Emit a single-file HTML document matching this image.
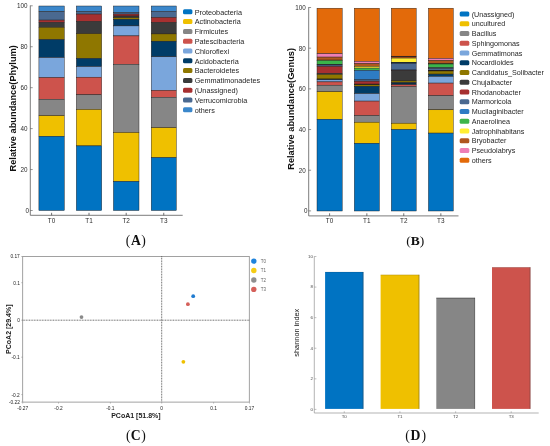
<!DOCTYPE html>
<html lang="en"><head><meta charset="utf-8"><title>Figure</title>
<style>
html,body{margin:0;padding:0;background:#fff;}
body{width:550px;height:446px;overflow:hidden;}
svg{display:block;}
</style></head><body>
<svg width="550" height="446" viewBox="0 0 550 446">
<rect width="550" height="446" fill="#fff"/>
<g font-family='"Liberation Sans", Arial, sans-serif'>
<rect x="38.90" y="6.00" width="25.40" height="5.60" fill="#3B87CB" stroke="#1a1414" stroke-width="0.42"/>
<rect x="38.90" y="11.60" width="25.40" height="8.50" fill="#4A6990" stroke="#1a1414" stroke-width="0.42"/>
<rect x="38.90" y="20.10" width="25.40" height="2.40" fill="#A73030" stroke="#1a1414" stroke-width="0.42"/>
<rect x="38.90" y="22.50" width="25.40" height="4.80" fill="#3B3B3B" stroke="#1a1414" stroke-width="0.42"/>
<rect x="38.90" y="27.30" width="25.40" height="12.30" fill="#8F7700" stroke="#1a1414" stroke-width="0.42"/>
<rect x="38.90" y="39.60" width="25.40" height="18.00" fill="#003C67" stroke="#1a1414" stroke-width="0.42"/>
<rect x="38.90" y="57.60" width="25.40" height="20.00" fill="#7AA6DC" stroke="#1a1414" stroke-width="0.42"/>
<rect x="38.90" y="77.60" width="25.40" height="21.70" fill="#CD534C" stroke="#1a1414" stroke-width="0.42"/>
<rect x="38.90" y="99.30" width="25.40" height="16.40" fill="#868686" stroke="#1a1414" stroke-width="0.42"/>
<rect x="38.90" y="115.70" width="25.40" height="20.60" fill="#EFC000" stroke="#1a1414" stroke-width="0.42"/>
<rect x="38.90" y="136.30" width="25.40" height="74.20" fill="#0073C2" stroke="#1a1414" stroke-width="0.42"/>
<rect x="76.30" y="6.00" width="25.40" height="5.60" fill="#3B87CB" stroke="#1a1414" stroke-width="0.42"/>
<rect x="76.30" y="11.60" width="25.40" height="2.50" fill="#4A6990" stroke="#1a1414" stroke-width="0.42"/>
<rect x="76.30" y="14.10" width="25.40" height="7.40" fill="#A73030" stroke="#1a1414" stroke-width="0.42"/>
<rect x="76.30" y="21.50" width="25.40" height="12.20" fill="#3B3B3B" stroke="#1a1414" stroke-width="0.42"/>
<rect x="76.30" y="33.70" width="25.40" height="24.70" fill="#8F7700" stroke="#1a1414" stroke-width="0.42"/>
<rect x="76.30" y="58.40" width="25.40" height="8.20" fill="#003C67" stroke="#1a1414" stroke-width="0.42"/>
<rect x="76.30" y="66.60" width="25.40" height="10.60" fill="#7AA6DC" stroke="#1a1414" stroke-width="0.42"/>
<rect x="76.30" y="77.20" width="25.40" height="17.60" fill="#CD534C" stroke="#1a1414" stroke-width="0.42"/>
<rect x="76.30" y="94.80" width="25.40" height="14.60" fill="#868686" stroke="#1a1414" stroke-width="0.42"/>
<rect x="76.30" y="109.40" width="25.40" height="36.50" fill="#EFC000" stroke="#1a1414" stroke-width="0.42"/>
<rect x="76.30" y="145.90" width="25.40" height="64.60" fill="#0073C2" stroke="#1a1414" stroke-width="0.42"/>
<rect x="113.40" y="6.00" width="25.60" height="6.40" fill="#3B87CB" stroke="#1a1414" stroke-width="0.42"/>
<rect x="113.40" y="12.40" width="25.60" height="1.70" fill="#4A6990" stroke="#1a1414" stroke-width="0.42"/>
<rect x="113.40" y="14.10" width="25.60" height="1.90" fill="#A73030" stroke="#1a1414" stroke-width="0.42"/>
<rect x="113.40" y="16.00" width="25.60" height="1.70" fill="#3B3B3B" stroke="#1a1414" stroke-width="0.42"/>
<rect x="113.40" y="17.70" width="25.60" height="1.60" fill="#8F7700" stroke="#1a1414" stroke-width="0.42"/>
<rect x="113.40" y="19.30" width="25.60" height="6.60" fill="#003C67" stroke="#1a1414" stroke-width="0.42"/>
<rect x="113.40" y="25.90" width="25.60" height="10.00" fill="#7AA6DC" stroke="#1a1414" stroke-width="0.42"/>
<rect x="113.40" y="35.90" width="25.60" height="28.40" fill="#CD534C" stroke="#1a1414" stroke-width="0.42"/>
<rect x="113.40" y="64.30" width="25.60" height="68.20" fill="#868686" stroke="#1a1414" stroke-width="0.42"/>
<rect x="113.40" y="132.50" width="25.60" height="48.90" fill="#EFC000" stroke="#1a1414" stroke-width="0.42"/>
<rect x="113.40" y="181.40" width="25.60" height="29.10" fill="#0073C2" stroke="#1a1414" stroke-width="0.42"/>
<rect x="151.20" y="6.00" width="25.10" height="5.30" fill="#3B87CB" stroke="#1a1414" stroke-width="0.42"/>
<rect x="151.20" y="11.30" width="25.10" height="6.20" fill="#4A6990" stroke="#1a1414" stroke-width="0.42"/>
<rect x="151.20" y="17.50" width="25.10" height="5.00" fill="#A73030" stroke="#1a1414" stroke-width="0.42"/>
<rect x="151.20" y="22.50" width="25.10" height="11.40" fill="#3B3B3B" stroke="#1a1414" stroke-width="0.42"/>
<rect x="151.20" y="33.90" width="25.10" height="7.30" fill="#8F7700" stroke="#1a1414" stroke-width="0.42"/>
<rect x="151.20" y="41.20" width="25.10" height="15.60" fill="#003C67" stroke="#1a1414" stroke-width="0.42"/>
<rect x="151.20" y="56.80" width="25.10" height="33.60" fill="#7AA6DC" stroke="#1a1414" stroke-width="0.42"/>
<rect x="151.20" y="90.40" width="25.10" height="6.90" fill="#CD534C" stroke="#1a1414" stroke-width="0.42"/>
<rect x="151.20" y="97.30" width="25.10" height="30.40" fill="#868686" stroke="#1a1414" stroke-width="0.42"/>
<rect x="151.20" y="127.70" width="25.10" height="29.90" fill="#EFC000" stroke="#1a1414" stroke-width="0.42"/>
<rect x="151.20" y="157.60" width="25.10" height="52.90" fill="#0073C2" stroke="#1a1414" stroke-width="0.42"/>
<path d="M30.3 5.5V215.3" stroke="#5a5a5a" stroke-width="0.8" fill="none"/>
<path d="M30.3 5.80H32.7" stroke="#5a5a5a" stroke-width="0.64" fill="none"/>
<text x="27.400000000000002" y="8.32" font-size="6.3" text-anchor="end" fill="#2a2a2a">100</text>
<path d="M30.3 46.74H32.7" stroke="#5a5a5a" stroke-width="0.64" fill="none"/>
<text x="27.400000000000002" y="49.26" font-size="6.3" text-anchor="end" fill="#2a2a2a">80</text>
<path d="M30.3 87.68H32.7" stroke="#5a5a5a" stroke-width="0.64" fill="none"/>
<text x="27.400000000000002" y="90.20" font-size="6.3" text-anchor="end" fill="#2a2a2a">60</text>
<path d="M30.3 128.62H32.7" stroke="#5a5a5a" stroke-width="0.64" fill="none"/>
<text x="27.400000000000002" y="131.14" font-size="6.3" text-anchor="end" fill="#2a2a2a">40</text>
<path d="M30.3 169.56H32.7" stroke="#5a5a5a" stroke-width="0.64" fill="none"/>
<text x="27.400000000000002" y="172.08" font-size="6.3" text-anchor="end" fill="#2a2a2a">20</text>
<path d="M30.3 210.50H32.7" stroke="#5a5a5a" stroke-width="0.64" fill="none"/>
<text x="29.000000000000004" y="213.02" font-size="6.3" text-anchor="end" fill="#2a2a2a">0</text>
<path d="M30.3 215.3H182.7" stroke="#5a5a5a" stroke-width="0.8" fill="none"/>
<path d="M51.60 215.3V212.8" stroke="#444" stroke-width="0.75" fill="none"/>
<text x="51.60" y="222.6" font-size="6.4" text-anchor="middle" fill="#2a2a2a">T0</text>
<path d="M89.00 215.3V212.8" stroke="#444" stroke-width="0.75" fill="none"/>
<text x="89.00" y="222.6" font-size="6.4" text-anchor="middle" fill="#2a2a2a">T1</text>
<path d="M126.20 215.3V212.8" stroke="#444" stroke-width="0.75" fill="none"/>
<text x="126.20" y="222.6" font-size="6.4" text-anchor="middle" fill="#2a2a2a">T2</text>
<path d="M163.75 215.3V212.8" stroke="#444" stroke-width="0.75" fill="none"/>
<text x="163.75" y="222.6" font-size="6.4" text-anchor="middle" fill="#2a2a2a">T3</text>
<text transform="translate(16.3 108.3) rotate(-90)" font-size="8.9" font-weight="bold" text-anchor="middle" fill="#111" textLength="126.3" lengthAdjust="spacingAndGlyphs">Relative abundance(Phylum)</text>
<rect x="183.0" y="9.30" width="9.4" height="5.0" rx="1.5" fill="#0073C2"/>
<text x="194.7" y="14.55" font-size="7.27" fill="#262626">Proteobacteria</text>
<rect x="183.0" y="19.10" width="9.4" height="5.0" rx="1.5" fill="#EFC000"/>
<text x="194.7" y="24.35" font-size="7.27" fill="#262626">Actinobacteria</text>
<rect x="183.0" y="28.90" width="9.4" height="5.0" rx="1.5" fill="#868686"/>
<text x="194.7" y="34.15" font-size="7.27" fill="#262626">Firmicutes</text>
<rect x="183.0" y="38.70" width="9.4" height="5.0" rx="1.5" fill="#CD534C"/>
<text x="194.7" y="43.95" font-size="7.27" fill="#262626">Patescibacteria</text>
<rect x="183.0" y="48.50" width="9.4" height="5.0" rx="1.5" fill="#7AA6DC"/>
<text x="194.7" y="53.75" font-size="7.27" fill="#262626">Chloroflexi</text>
<rect x="183.0" y="58.30" width="9.4" height="5.0" rx="1.5" fill="#003C67"/>
<text x="194.7" y="63.55" font-size="7.27" fill="#262626">Acidobacteria</text>
<rect x="183.0" y="68.10" width="9.4" height="5.0" rx="1.5" fill="#8F7700"/>
<text x="194.7" y="73.35" font-size="7.27" fill="#262626">Bacteroidetes</text>
<rect x="183.0" y="77.90" width="9.4" height="5.0" rx="1.5" fill="#3B3B3B"/>
<text x="194.7" y="83.15" font-size="7.27" fill="#262626">Gemmatimonadetes</text>
<rect x="183.0" y="87.70" width="9.4" height="5.0" rx="1.5" fill="#A73030"/>
<text x="194.7" y="92.95" font-size="7.27" fill="#262626">(Unassigned)</text>
<rect x="183.0" y="97.50" width="9.4" height="5.0" rx="1.5" fill="#4A6990"/>
<text x="194.7" y="102.75" font-size="7.27" fill="#262626">Verrucomicrobia</text>
<rect x="183.0" y="107.30" width="9.4" height="5.0" rx="1.5" fill="#3B87CB"/>
<text x="194.7" y="112.55" font-size="7.27" fill="#262626">others</text>
<rect x="317.00" y="8.20" width="25.20" height="45.50" fill="#E36A0A" stroke="#1a1414" stroke-width="0.42"/>
<rect x="317.00" y="53.70" width="25.20" height="3.40" fill="#EE7FB5" stroke="#1a1414" stroke-width="0.42"/>
<rect x="317.00" y="57.10" width="25.20" height="3.00" fill="#B0561F" stroke="#1a1414" stroke-width="0.42"/>
<rect x="317.00" y="60.10" width="25.20" height="0.40" fill="#FFEE33" stroke="#1a1414" stroke-width="0.42"/>
<rect x="317.00" y="60.50" width="25.20" height="4.10" fill="#3CB54A" stroke="#1a1414" stroke-width="0.42"/>
<rect x="317.00" y="64.60" width="25.20" height="0.40" fill="#2E7CC4" stroke="#1a1414" stroke-width="0.42"/>
<rect x="317.00" y="65.00" width="25.20" height="1.40" fill="#4A6990" stroke="#1a1414" stroke-width="0.42"/>
<rect x="317.00" y="66.40" width="25.20" height="6.90" fill="#A73030" stroke="#1a1414" stroke-width="0.42"/>
<rect x="317.00" y="73.30" width="25.20" height="1.10" fill="#3B3B3B" stroke="#1a1414" stroke-width="0.42"/>
<rect x="317.00" y="74.40" width="25.20" height="4.60" fill="#8F7700" stroke="#1a1414" stroke-width="0.42"/>
<rect x="317.00" y="79.00" width="25.20" height="0.80" fill="#003C67" stroke="#1a1414" stroke-width="0.42"/>
<rect x="317.00" y="79.80" width="25.20" height="2.10" fill="#7AA6DC" stroke="#1a1414" stroke-width="0.42"/>
<rect x="317.00" y="81.90" width="25.20" height="3.30" fill="#CD534C" stroke="#1a1414" stroke-width="0.42"/>
<rect x="317.00" y="85.20" width="25.20" height="6.50" fill="#868686" stroke="#1a1414" stroke-width="0.42"/>
<rect x="317.00" y="91.70" width="25.20" height="27.60" fill="#EFC000" stroke="#1a1414" stroke-width="0.42"/>
<rect x="317.00" y="119.30" width="25.20" height="91.70" fill="#0073C2" stroke="#1a1414" stroke-width="0.42"/>
<rect x="354.30" y="8.20" width="25.10" height="53.10" fill="#E36A0A" stroke="#1a1414" stroke-width="0.42"/>
<rect x="354.30" y="61.30" width="25.10" height="2.20" fill="#EE7FB5" stroke="#1a1414" stroke-width="0.42"/>
<rect x="354.30" y="63.50" width="25.10" height="2.90" fill="#B0561F" stroke="#1a1414" stroke-width="0.42"/>
<rect x="354.30" y="66.40" width="25.10" height="1.70" fill="#FFEE33" stroke="#1a1414" stroke-width="0.42"/>
<rect x="354.30" y="68.10" width="25.10" height="2.20" fill="#3CB54A" stroke="#1a1414" stroke-width="0.42"/>
<rect x="354.30" y="70.30" width="25.10" height="9.60" fill="#2E7CC4" stroke="#1a1414" stroke-width="0.42"/>
<rect x="354.30" y="79.90" width="25.10" height="1.30" fill="#4A6990" stroke="#1a1414" stroke-width="0.42"/>
<rect x="354.30" y="81.20" width="25.10" height="2.90" fill="#A73030" stroke="#1a1414" stroke-width="0.42"/>
<rect x="354.30" y="84.10" width="25.10" height="0.70" fill="#3B3B3B" stroke="#1a1414" stroke-width="0.42"/>
<rect x="354.30" y="84.80" width="25.10" height="1.50" fill="#8F7700" stroke="#1a1414" stroke-width="0.42"/>
<rect x="354.30" y="86.30" width="25.10" height="7.30" fill="#003C67" stroke="#1a1414" stroke-width="0.42"/>
<rect x="354.30" y="93.60" width="25.10" height="7.50" fill="#7AA6DC" stroke="#1a1414" stroke-width="0.42"/>
<rect x="354.30" y="101.10" width="25.10" height="14.50" fill="#CD534C" stroke="#1a1414" stroke-width="0.42"/>
<rect x="354.30" y="115.60" width="25.10" height="6.60" fill="#868686" stroke="#1a1414" stroke-width="0.42"/>
<rect x="354.30" y="122.20" width="25.10" height="21.10" fill="#EFC000" stroke="#1a1414" stroke-width="0.42"/>
<rect x="354.30" y="143.30" width="25.10" height="67.70" fill="#0073C2" stroke="#1a1414" stroke-width="0.42"/>
<rect x="391.30" y="8.20" width="24.90" height="48.00" fill="#E36A0A" stroke="#1a1414" stroke-width="0.42"/>
<rect x="391.30" y="56.20" width="24.90" height="0.60" fill="#EE7FB5" stroke="#1a1414" stroke-width="0.42"/>
<rect x="391.30" y="56.80" width="24.90" height="1.30" fill="#B0561F" stroke="#1a1414" stroke-width="0.42"/>
<rect x="391.30" y="58.10" width="24.90" height="4.20" fill="#FFEE33" stroke="#1a1414" stroke-width="0.42"/>
<rect x="391.30" y="62.30" width="24.90" height="0.50" fill="#3CB54A" stroke="#1a1414" stroke-width="0.42"/>
<rect x="391.30" y="62.80" width="24.90" height="0.90" fill="#2E7CC4" stroke="#1a1414" stroke-width="0.42"/>
<rect x="391.30" y="63.70" width="24.90" height="6.30" fill="#4A6990" stroke="#1a1414" stroke-width="0.42"/>
<rect x="391.30" y="70.00" width="24.90" height="0.30" fill="#A73030" stroke="#1a1414" stroke-width="0.42"/>
<rect x="391.30" y="70.30" width="24.90" height="10.60" fill="#3B3B3B" stroke="#1a1414" stroke-width="0.42"/>
<rect x="391.30" y="80.90" width="24.90" height="1.80" fill="#8F7700" stroke="#1a1414" stroke-width="0.42"/>
<rect x="391.30" y="82.70" width="24.90" height="1.30" fill="#003C67" stroke="#1a1414" stroke-width="0.42"/>
<rect x="391.30" y="84.00" width="24.90" height="0.80" fill="#7AA6DC" stroke="#1a1414" stroke-width="0.42"/>
<rect x="391.30" y="84.80" width="24.90" height="1.80" fill="#CD534C" stroke="#1a1414" stroke-width="0.42"/>
<rect x="391.30" y="86.60" width="24.90" height="36.60" fill="#868686" stroke="#1a1414" stroke-width="0.42"/>
<rect x="391.30" y="123.20" width="24.90" height="6.30" fill="#EFC000" stroke="#1a1414" stroke-width="0.42"/>
<rect x="391.30" y="129.50" width="24.90" height="81.50" fill="#0073C2" stroke="#1a1414" stroke-width="0.42"/>
<rect x="428.40" y="8.20" width="24.90" height="50.20" fill="#E36A0A" stroke="#1a1414" stroke-width="0.42"/>
<rect x="428.40" y="58.40" width="24.90" height="1.90" fill="#EE7FB5" stroke="#1a1414" stroke-width="0.42"/>
<rect x="428.40" y="60.30" width="24.90" height="3.40" fill="#B0561F" stroke="#1a1414" stroke-width="0.42"/>
<rect x="428.40" y="63.70" width="24.90" height="0.30" fill="#FFEE33" stroke="#1a1414" stroke-width="0.42"/>
<rect x="428.40" y="64.00" width="24.90" height="3.80" fill="#3CB54A" stroke="#1a1414" stroke-width="0.42"/>
<rect x="428.40" y="67.80" width="24.90" height="0.50" fill="#2E7CC4" stroke="#1a1414" stroke-width="0.42"/>
<rect x="428.40" y="68.30" width="24.90" height="2.10" fill="#4A6990" stroke="#1a1414" stroke-width="0.42"/>
<rect x="428.40" y="70.40" width="24.90" height="0.40" fill="#A73030" stroke="#1a1414" stroke-width="0.42"/>
<rect x="428.40" y="70.80" width="24.90" height="0.20" fill="#3B3B3B" stroke="#1a1414" stroke-width="0.42"/>
<rect x="428.40" y="71.00" width="24.90" height="3.10" fill="#8F7700" stroke="#1a1414" stroke-width="0.42"/>
<rect x="428.40" y="74.10" width="24.90" height="2.40" fill="#003C67" stroke="#1a1414" stroke-width="0.42"/>
<rect x="428.40" y="76.50" width="24.90" height="6.60" fill="#7AA6DC" stroke="#1a1414" stroke-width="0.42"/>
<rect x="428.40" y="83.10" width="24.90" height="12.60" fill="#CD534C" stroke="#1a1414" stroke-width="0.42"/>
<rect x="428.40" y="95.70" width="24.90" height="14.10" fill="#868686" stroke="#1a1414" stroke-width="0.42"/>
<rect x="428.40" y="109.80" width="24.90" height="23.30" fill="#EFC000" stroke="#1a1414" stroke-width="0.42"/>
<rect x="428.40" y="133.10" width="24.90" height="77.90" fill="#0073C2" stroke="#1a1414" stroke-width="0.42"/>
<path d="M308.7 7.2V215.9" stroke="#5a5a5a" stroke-width="0.8" fill="none"/>
<path d="M308.7 7.50H311.09999999999997" stroke="#5a5a5a" stroke-width="0.64" fill="none"/>
<text x="305.8" y="10.02" font-size="6.3" text-anchor="end" fill="#2a2a2a">100</text>
<path d="M308.7 48.18H311.09999999999997" stroke="#5a5a5a" stroke-width="0.64" fill="none"/>
<text x="305.8" y="50.70" font-size="6.3" text-anchor="end" fill="#2a2a2a">80</text>
<path d="M308.7 88.86H311.09999999999997" stroke="#5a5a5a" stroke-width="0.64" fill="none"/>
<text x="305.8" y="91.38" font-size="6.3" text-anchor="end" fill="#2a2a2a">60</text>
<path d="M308.7 129.54H311.09999999999997" stroke="#5a5a5a" stroke-width="0.64" fill="none"/>
<text x="305.8" y="132.06" font-size="6.3" text-anchor="end" fill="#2a2a2a">40</text>
<path d="M308.7 170.22H311.09999999999997" stroke="#5a5a5a" stroke-width="0.64" fill="none"/>
<text x="305.8" y="172.74" font-size="6.3" text-anchor="end" fill="#2a2a2a">20</text>
<path d="M308.7 210.90H311.09999999999997" stroke="#5a5a5a" stroke-width="0.64" fill="none"/>
<text x="307.40000000000003" y="213.42" font-size="6.3" text-anchor="end" fill="#2a2a2a">0</text>
<path d="M308.7 215.9H458.5" stroke="#5a5a5a" stroke-width="0.8" fill="none"/>
<path d="M329.60 215.9V213.3" stroke="#444" stroke-width="0.75" fill="none"/>
<text x="329.60" y="222.9" font-size="6.4" text-anchor="middle" fill="#2a2a2a">T0</text>
<path d="M366.85 215.9V213.3" stroke="#444" stroke-width="0.75" fill="none"/>
<text x="366.85" y="222.9" font-size="6.4" text-anchor="middle" fill="#2a2a2a">T1</text>
<path d="M403.75 215.9V213.3" stroke="#444" stroke-width="0.75" fill="none"/>
<text x="403.75" y="222.9" font-size="6.4" text-anchor="middle" fill="#2a2a2a">T2</text>
<path d="M440.85 215.9V213.3" stroke="#444" stroke-width="0.75" fill="none"/>
<text x="440.85" y="222.9" font-size="6.4" text-anchor="middle" fill="#2a2a2a">T3</text>
<text transform="translate(294.3 108.9) rotate(-90)" font-size="8.9" font-weight="bold" text-anchor="middle" fill="#111" textLength="121.8" lengthAdjust="spacingAndGlyphs">Relative abundance(Genus)</text>
<rect x="459.7" y="11.40" width="9.6" height="5.0" rx="1.5" fill="#0073C2"/>
<text x="471.7" y="16.70" font-size="7.2" fill="#262626">(Unassigned)</text>
<rect x="459.7" y="21.15" width="9.6" height="5.0" rx="1.5" fill="#EFC000"/>
<text x="471.7" y="26.45" font-size="7.2" fill="#262626">uncultured</text>
<rect x="459.7" y="30.90" width="9.6" height="5.0" rx="1.5" fill="#868686"/>
<text x="471.7" y="36.20" font-size="7.2" fill="#262626">Bacillus</text>
<rect x="459.7" y="40.65" width="9.6" height="5.0" rx="1.5" fill="#CD534C"/>
<text x="471.7" y="45.95" font-size="7.2" fill="#262626">Sphingomonas</text>
<rect x="459.7" y="50.40" width="9.6" height="5.0" rx="1.5" fill="#7AA6DC"/>
<text x="471.7" y="55.70" font-size="7.2" fill="#262626">Gemmatimonas</text>
<rect x="459.7" y="60.15" width="9.6" height="5.0" rx="1.5" fill="#003C67"/>
<text x="471.7" y="65.45" font-size="7.2" fill="#262626">Nocardioides</text>
<rect x="459.7" y="69.90" width="9.6" height="5.0" rx="1.5" fill="#8F7700"/>
<text x="471.7" y="75.20" font-size="7.2" fill="#262626">Candidatus_Solibacter</text>
<rect x="459.7" y="79.65" width="9.6" height="5.0" rx="1.5" fill="#3B3B3B"/>
<text x="471.7" y="84.95" font-size="7.2" fill="#262626">Chujaibacter</text>
<rect x="459.7" y="89.40" width="9.6" height="5.0" rx="1.5" fill="#A73030"/>
<text x="471.7" y="94.70" font-size="7.2" fill="#262626">Rhodanobacter</text>
<rect x="459.7" y="99.15" width="9.6" height="5.0" rx="1.5" fill="#4A6990"/>
<text x="471.7" y="104.45" font-size="7.2" fill="#262626">Marmoricola</text>
<rect x="459.7" y="108.90" width="9.6" height="5.0" rx="1.5" fill="#2E7CC4"/>
<text x="471.7" y="114.20" font-size="7.2" fill="#262626">Mucilaginibacter</text>
<rect x="459.7" y="118.65" width="9.6" height="5.0" rx="1.5" fill="#3CB54A"/>
<text x="471.7" y="123.95" font-size="7.2" fill="#262626">Anaerolinea</text>
<rect x="459.7" y="128.40" width="9.6" height="5.0" rx="1.5" fill="#FFEE33"/>
<text x="471.7" y="133.70" font-size="7.2" fill="#262626">Jatrophihabitans</text>
<rect x="459.7" y="138.15" width="9.6" height="5.0" rx="1.5" fill="#B0561F"/>
<text x="471.7" y="143.45" font-size="7.2" fill="#262626">Bryobacter</text>
<rect x="459.7" y="147.90" width="9.6" height="5.0" rx="1.5" fill="#EE7FB5"/>
<text x="471.7" y="153.20" font-size="7.2" fill="#262626">Pseudolabrys</text>
<rect x="459.7" y="157.65" width="9.6" height="5.0" rx="1.5" fill="#E36A0A"/>
<text x="471.7" y="162.95" font-size="7.2" fill="#262626">others</text>
<rect x="22.7" y="256.4" width="226.6" height="145.7" fill="none" stroke="#8a8a8a" stroke-width="0.8"/>
<path d="M22.7 320.2H249.3" stroke="#222" stroke-width="0.7" stroke-dasharray="0.9 0.7" fill="none"/>
<path d="M161.7 256.4V402.1" stroke="#222" stroke-width="0.7" stroke-dasharray="0.9 0.7" fill="none"/>
<path d="M22.7 256.5H21.2" stroke="#8a8a8a" stroke-width="0.5"/>
<text x="19.8" y="258.40" font-size="4.8" text-anchor="end" fill="#222">0.17</text>
<path d="M22.7 282.7H21.2" stroke="#8a8a8a" stroke-width="0.5"/>
<text x="19.8" y="284.60" font-size="4.8" text-anchor="end" fill="#222">0.1</text>
<path d="M22.7 320.2H21.2" stroke="#8a8a8a" stroke-width="0.5"/>
<text x="19.8" y="322.10" font-size="4.8" text-anchor="end" fill="#222">0</text>
<path d="M22.7 357.2H21.2" stroke="#8a8a8a" stroke-width="0.5"/>
<text x="19.8" y="359.10" font-size="4.8" text-anchor="end" fill="#222">-0.1</text>
<path d="M22.7 394.6H21.2" stroke="#8a8a8a" stroke-width="0.5"/>
<text x="19.8" y="396.50" font-size="4.8" text-anchor="end" fill="#222">-0.2</text>
<path d="M22.7 402.1H21.2" stroke="#8a8a8a" stroke-width="0.5"/>
<text x="19.8" y="404.00" font-size="4.8" text-anchor="end" fill="#222">-0.22</text>
<path d="M22.7 402.1V403.6" stroke="#8a8a8a" stroke-width="0.5"/>
<text x="22.7" y="410.3" font-size="4.8" text-anchor="middle" fill="#222">-0.27</text>
<path d="M58.5 402.1V403.6" stroke="#8a8a8a" stroke-width="0.5"/>
<text x="58.5" y="410.3" font-size="4.8" text-anchor="middle" fill="#222">-0.2</text>
<path d="M110.4 402.1V403.6" stroke="#8a8a8a" stroke-width="0.5"/>
<text x="110.4" y="410.3" font-size="4.8" text-anchor="middle" fill="#222">-0.1</text>
<path d="M161.7 402.1V403.6" stroke="#8a8a8a" stroke-width="0.5"/>
<text x="161.7" y="410.3" font-size="4.8" text-anchor="middle" fill="#222">0</text>
<path d="M213.6 402.1V403.6" stroke="#8a8a8a" stroke-width="0.5"/>
<text x="213.6" y="410.3" font-size="4.8" text-anchor="middle" fill="#222">0.1</text>
<path d="M249.5 402.1V403.6" stroke="#8a8a8a" stroke-width="0.5"/>
<text x="249.5" y="410.3" font-size="4.8" text-anchor="middle" fill="#222">0.17</text>
<text x="135.9" y="417.8" font-size="7.3" font-weight="bold" text-anchor="middle" fill="#222" textLength="49.5" lengthAdjust="spacingAndGlyphs">PCoA1 [51.8%]</text>
<text transform="translate(10.7 329.2) rotate(-90)" font-size="7.3" font-weight="bold" text-anchor="middle" fill="#222" textLength="49.4" lengthAdjust="spacingAndGlyphs">PCoA2 [29.4%]</text>
<circle cx="193.2" cy="296.2" r="1.9" fill="#1F7BD0"/>
<circle cx="183.4" cy="361.8" r="1.9" fill="#EFC000"/>
<circle cx="81.5" cy="317.1" r="1.9" fill="#8a8a8a"/>
<circle cx="187.9" cy="304.2" r="1.9" fill="#D5605A"/>
<circle cx="253.8" cy="261.10" r="2.7" fill="#1F83DB"/>
<text x="260.8" y="262.70" font-size="4.5" fill="#666">T0</text>
<circle cx="253.8" cy="270.53" r="2.7" fill="#F5CC14"/>
<text x="260.8" y="272.13" font-size="4.5" fill="#666">T1</text>
<circle cx="253.8" cy="279.96" r="2.7" fill="#8f8f8f"/>
<text x="260.8" y="281.56" font-size="4.5" fill="#666">T2</text>
<circle cx="253.8" cy="289.39" r="2.7" fill="#D5605A"/>
<text x="260.8" y="290.99" font-size="4.5" fill="#666">T3</text>
<rect x="325.1" y="272.0" width="38.30" height="136.90" fill="#0073C2"/>
<path d="M325.1 272.2H363.4" stroke="#222" stroke-opacity="0.22" stroke-width="0.7" fill="none"/>
<path d="M363.10 272.0V408.9" stroke="#333" stroke-opacity="0.55" stroke-width="0.7" fill="none"/>
<rect x="380.6" y="274.8" width="38.70" height="134.10" fill="#EFC000"/>
<path d="M380.6 275.0H419.3" stroke="#222" stroke-opacity="0.22" stroke-width="0.7" fill="none"/>
<path d="M419.00 274.8V408.9" stroke="#333" stroke-opacity="0.55" stroke-width="0.7" fill="none"/>
<rect x="436.3" y="297.9" width="38.70" height="111.00" fill="#868686"/>
<path d="M436.3 298.09999999999997H475.0" stroke="#222" stroke-opacity="0.65" stroke-width="0.7" fill="none"/>
<path d="M474.70 297.9V408.9" stroke="#333" stroke-opacity="0.55" stroke-width="0.7" fill="none"/>
<rect x="492.0" y="267.3" width="38.40" height="141.60" fill="#CD534C"/>
<path d="M492.0 267.5H530.4" stroke="#222" stroke-opacity="0.22" stroke-width="0.7" fill="none"/>
<path d="M530.10 267.3V408.9" stroke="#333" stroke-opacity="0.55" stroke-width="0.7" fill="none"/>
<path d="M314.3 256.3V413.0H538.7" stroke="#939393" stroke-width="0.7" fill="none"/>
<path d="M314.3 256.50H316.4" stroke="#939393" stroke-width="0.6"/>
<text x="312.9" y="257.90" font-size="4.4" text-anchor="end" fill="#444">10</text>
<path d="M314.3 287.08H316.4" stroke="#939393" stroke-width="0.6"/>
<text x="312.9" y="288.48" font-size="4.4" text-anchor="end" fill="#444">8</text>
<path d="M314.3 317.66H316.4" stroke="#939393" stroke-width="0.6"/>
<text x="312.9" y="319.06" font-size="4.4" text-anchor="end" fill="#444">6</text>
<path d="M314.3 348.24H316.4" stroke="#939393" stroke-width="0.6"/>
<text x="312.9" y="349.64" font-size="4.4" text-anchor="end" fill="#444">4</text>
<path d="M314.3 378.82H316.4" stroke="#939393" stroke-width="0.6"/>
<text x="312.9" y="380.22" font-size="4.4" text-anchor="end" fill="#444">2</text>
<path d="M314.3 409.40H316.4" stroke="#939393" stroke-width="0.6"/>
<text x="312.9" y="410.80" font-size="4.4" text-anchor="end" fill="#444">0</text>
<path d="M344.25 413.0V411.3" stroke="#939393" stroke-width="0.6"/>
<text x="344.25" y="417.5" font-size="4.4" text-anchor="middle" fill="#444">T0</text>
<path d="M399.95 413.0V411.3" stroke="#939393" stroke-width="0.6"/>
<text x="399.95" y="417.5" font-size="4.4" text-anchor="middle" fill="#444">T1</text>
<path d="M455.65 413.0V411.3" stroke="#939393" stroke-width="0.6"/>
<text x="455.65" y="417.5" font-size="4.4" text-anchor="middle" fill="#444">T2</text>
<path d="M511.20 413.0V411.3" stroke="#939393" stroke-width="0.6"/>
<text x="511.20" y="417.5" font-size="4.4" text-anchor="middle" fill="#444">T3</text>
<text transform="translate(298.6 332.7) rotate(-90)" font-size="7.3" text-anchor="middle" fill="#111" textLength="48" lengthAdjust="spacingAndGlyphs">shannon index</text>
</g>
<text x="136.1" y="244.6" font-family='"Liberation Serif", "Times New Roman", serif' font-size="13.7" text-anchor="middle" fill="#111" letter-spacing="0.55">(<tspan font-weight="bold">A</tspan>)</text>
<text x="415.3" y="244.8" font-family='"Liberation Serif", "Times New Roman", serif' font-size="13.5" text-anchor="middle" fill="#111" letter-spacing="0">(<tspan font-weight="bold">B</tspan>)</text>
<text x="136.0" y="440.2" font-family='"Liberation Serif", "Times New Roman", serif' font-size="13.7" text-anchor="middle" fill="#111" letter-spacing="0.4">(<tspan font-weight="bold">C</tspan>)</text>
<text x="416.0" y="440.0" font-family='"Liberation Serif", "Times New Roman", serif' font-size="13.7" text-anchor="middle" fill="#111" letter-spacing="0.9">(<tspan font-weight="bold">D</tspan>)</text>
</svg>
</body></html>
